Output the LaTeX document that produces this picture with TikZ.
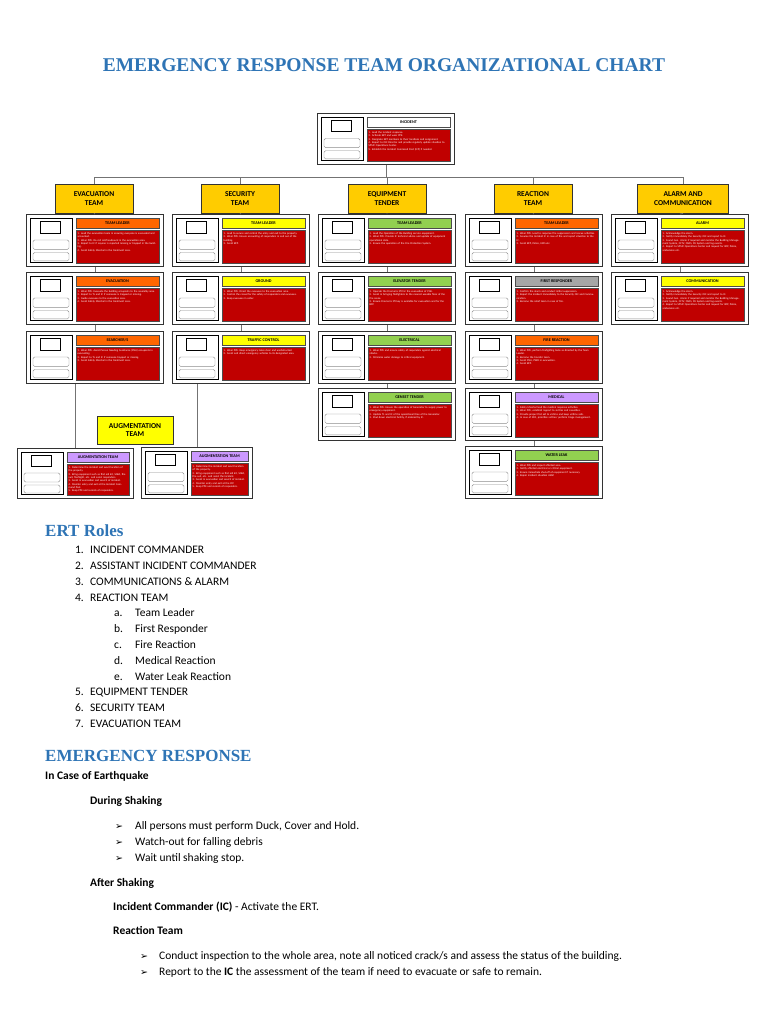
\documentclass[tikz,border=0pt]{standalone}
\usepackage{fontspec}
\setmainfont{Carlito}
\newfontfamily\titlefont{Liberation Serif}
\newfontfamily\dejavu{DejaVu Sans}
\definecolor{ttl}{HTML}{2E74B5}
\definecolor{ergred}{HTML}{C00000}
\definecolor{teamyel}{HTML}{FFCC00}
\definecolor{hyel}{HTML}{FFFF00}
\definecolor{horg}{HTML}{FF6600}
\definecolor{hgrn}{HTML}{92D050}
\definecolor{hgry}{HTML}{A6A6A6}
\definecolor{hpur}{HTML}{CC99FF}
\tikzset{
  cardbox/.style={draw=black!80, line width=0.9pt, fill=white, inner sep=0pt},
  teamhdr/.style={draw=black!80, line width=0.8pt, fill=teamyel, minimum width=78pt, minimum height=29pt, align=center, font=\fontsize{7.5}{8.5}\selectfont\bfseries, inner sep=1pt},
  conn/.style={draw=black!55, line width=0.7pt},
  body/.style={anchor=north west, text=white, inner sep=0.5pt, align=left, font=\fontsize{2.7}{3.3}\selectfont},
  hlabel/.style={font=\fontsize{4.2}{5}\selectfont\bfseries, inner sep=0pt},
  role/.style={anchor=base west, inner sep=0pt, font=\fontsize{11.5}{13}\selectfont},
  secttl/.style={anchor=base west, inner sep=0pt, text=ttl, font=\titlefont\fontsize{17}{19}\selectfont\bfseries},
}
\newcommand\card[8]{%
  \node[cardbox, minimum width=#4pt, minimum height=#5pt, anchor=north west] (#1) at (#2,#3) {};
  \begin{scope}[shift={(#1.north west)}]
    \draw[line width=0.9pt] (4,4) rectangle (46,{#5-4});
    \draw[line width=0.8pt] (14,7) rectangle (34,{#5*0.37});
    \draw[black!45, rounded corners=1.5pt] (7,{#5*0.5}) rectangle (43,{#5*0.68});
    \draw[black!45, rounded corners=1.5pt] (7,{#5*0.74}) rectangle (43,{#5*0.9});
    \draw[fill=#6, draw=black!70] (50,4) rectangle ({#4-4},14);
    \node[hlabel] at ({(#4+46)/2},9) {#7};
    \draw[fill=ergred, draw=black!70] (50,16) rectangle ({#4-4},{#5-3});
    \node[body, text width={(#4-58)*1pt}] at (51,18) {#8};
  \end{scope}}
\begin{document}
\begin{tikzpicture}[x=1pt,y=-1pt]
\useasboundingbox (0,0) rectangle (768,1024);
\node[text=ttl, font=\titlefont\fontsize{19.5}{22}\selectfont\bfseries] (title) at (384,65) {EMERGENCY RESPONSE TEAM ORGANIZATIONAL CHART};

% incident
\card{inc}{317}{113}{137}{51}{white}{INCIDENT}{1. Lead the incident response.\\2. Activate ERT and wear PPE.\\3. Designate ERT members to their locations and assignment.\\4. Report to OIC Director and provide regularly update situation to SPMC Operations Center.\\5. Establish the Incident Command Post (ICP) if needed.}

% team headers
\node[teamhdr] (hev) at (94,198.5) {EVACUATION\\TEAM};
\node[teamhdr] (hse) at (240,198.5) {SECURITY\\TEAM};
\node[teamhdr] (heq) at (387,198.5) {EQUIPMENT\\TENDER};
\node[teamhdr] (hre) at (533,198.5) {REACTION\\TEAM};
\node[teamhdr, minimum width=91pt] (hal) at (683,198.5) {ALARM AND\\COMMUNICATION};

\coordinate (busL) at (94,177);
\coordinate (busR) at (683,177);
\draw[conn] (busL) -- (busR);
\draw[conn] (inc.south) -- (inc.south |- busL);
\foreach \h in {hev,hse,heq,hre,hal} \draw[conn] (\h.north) -- (\h.north |- busL);

% evacuation column
\card{ev1}{26}{214}{137}{52}{horg}{TEAM LEADER}{1. Lead the evacuation team in ensuring everyone is evacuated and accounted.\\2. Wear PPE. Do roll call/headcount in the evacuation area.\\3. Report to IC if anyone is reported missing or trapped in the building.\\4. Assist Safety Marshal in the treatment area.}
\card{ev2}{26}{272}{137}{52}{horg}{EVACUATION}{1. Wear PPE. Evacuate the building occupants to the assembly area.\\2. Report to TL and IC if someone is trapped or missing.\\3. Guide evacuees to the evacuation area.\\4. Assist Safety Marshal in the treatment area.}
\card{ev3}{26}{331}{137}{52}{horg}{SEARCHER/S}{1. Wear PPE. Assist Person Needing Assistance (PNA) occupants in evacuating.\\2. Report to TL and IC if someone trapped or missing.\\3. Assist Safety Marshal in the treatment area.}
% security column
\card{se1}{172}{214}{137}{52}{hyel}{TEAM LEADER}{1. Lead to secure and control the entry and exit to the property.\\2. Wear PPE. Ensure accounting of responders in and out of the building.\\3. Assist BFP.}
\card{se2}{172}{272}{137}{52}{hyel}{GROUND}{1. Wear PPE. Direct the evacuees to the evacuation area.\\2. Control the crowd for the safety of responders and evacuees.\\3. Keep evacuees in order.}
\card{se3}{172}{331}{137}{52}{hyel}{TRAFFIC CONTROL}{1. Wear PPE. Keep emergency lanes clear and unobstructed.\\2. Assist and direct emergency vehicles to its designated area.}
% equipment column
\card{eq1}{318}{214}{137}{52}{hgrn}{TEAM LEADER}{1. Lead the Operation of the Building service equipment.\\2. Wear PPE. Provide IC technical advice and update of equipment operational data.\\3. Ensure the operation of the Fire Protection System.}
\card{eq2}{318}{272}{137}{52}{hgrn}{ELEVATOR TENDER}{1. Operate the Fireman's lift for the evacuation of PNA.\\2. Assist in bringing firefighters to the nearest useable floor of the fire scene.\\3. Ensure Fireman's lift key is available for evacuation and for the BFP.}
\card{eq3}{318}{331}{137}{52}{hgrn}{ELECTRICAL}{1. Wear PPE and ensure safety of responders against electrical shocks.\\2. Minimize water damage to critical equipment.}
\card{eq4}{318}{388}{137}{52}{hgrn}{GENSET TENDER}{1. Wear PPE. Ensure the operation of Generator to supply power to emergency equipment.\\2. Update TL and IC of the operational time of the Generator.\\3. Shut down electrical facility, if ordered by IC.}
% reaction column
\card{re1}{465}{214}{137}{52}{horg}{TEAM LEADER}{1. Wear PPE. Lead to response fire suppression and rescue activities.\\2. Assume the Incident IC in case of fire and report situation to the IC.\\3. Assist BFP, Police, EMS etc.}
\card{re2}{465}{272}{137}{52}{hgry}{FIRST RESPONDER}{1. Confirm the alarm and conduct initial suppression.\\2. Report the incident immediately to the Security OIC and Communication.\\3. Become the relief team in case of fire.}
\card{re3}{465}{331}{137}{52}{horg}{FIRE REACTION}{1. Wear PPE, perform firefighting tasks as directed by the Team Leader.\\2. Become the transfer team.\\3. Assist PNA, PWD in evacuation.\\4. Assist BFP.}
\card{re4}{465}{388}{137}{52}{hpur}{MEDICAL}{1. Safety Marshal lead the medical response activities.\\2. Wear PPE, establish rapport to victims and casualties.\\3. Provide proper first aid to victims and keep victims safe.\\4. In case of MCI, prioritize victims/ perform triage management.}
\card{re5}{465}{446}{137}{52}{hgrn}{WATER LEAK}{1. Wear PPE and inspect affected area.\\2. Notify affected electrical or critical equipment.\\3. Ensure immediate shut-off of equipment if necessary.\\4. Repair incident situation ASAP.}
% alarm column
\card{al1}{611}{214}{137}{52}{hyel}{ALARM}{1. Acknowledge the alarm.\\2. Notify immediately the Security OIC and report to IC.\\3. Sound Gen. Alarm if required and monitor the Building Management System, CCTV, FDAS, PA System and log events.\\4. Report to SPMC Operations Center and request for BFP, Police, ambulance etc.}
\card{al2}{611}{272}{137}{52}{hyel}{COMMUNICATION}{1. Acknowledge the alarm.\\2. Notify immediately the Security OIC and report to IC.\\3. Sound Gen. Alarm if required and monitor the Building Management System, CCTV, FDAS, PA System and log events.\\4. Report to SPMC Operations Center and request for BFP, Police, ambulance etc.}

% augmentation
\node[teamhdr, fill=hyel, minimum width=76pt, minimum height=28pt] (hau) at (135,430) {AUGMENTATION\\TEAM};
\card{au1}{17}{448}{116}{50}{hpur}{AUGMENTATION TEAM}{1. Determine the incident and exact location of the property.\\2. Bring equipment such as first aid kit, SCBA, fire suit, flashlight, etc. and assist responders.\\3. Assist in evacuation and search of incident.\\4. Monitor entry and exit at the Incident Command Post.\\5. Keep PPE and records of responders.}
\card{au2}{141}{447}{111}{51}{hpur}{AUGMENTATION TEAM}{1. Determine the incident and exact location of the property.\\2. Bring equipment such as first aid kit, SCBA, fire suit, etc. and assist the incident.\\3. Assist in evacuation and search of incident.\\4. Monitor entry and exit at the ICP.\\5. Keep PPE and records of responders.}

% vertical connectors
\foreach \a/\b in {hev/ev1,ev1/ev2,ev2/ev3,hse/se1,se1/se2,se2/se3,heq/eq1,eq1/eq2,eq2/eq3,eq3/eq4,hre/re1,re1/re2,re2/re3,re3/re4,re4/re5,hal/al1,al1/al2}
  \draw[conn] (\a.south) -- (\b.north);
\draw[conn] (au1.north) -- (au1.north |- ev3.south);
\draw[conn] (au2.north) -- (au2.north |- se3.south);

% ERT roles
\node[secttl] (rt) at (45,536) {ERT Roles};
\foreach \y/\n/\t in {549/1./INCIDENT COMMANDER,565/2./ASSISTANT INCIDENT COMMANDER,581/3./COMMUNICATIONS \& ALARM,597/4./REACTION TEAM,691/5./EQUIPMENT TENDER,707/6./SECURITY TEAM,723/7./EVACUATION TEAM}{
  \node[role, anchor=base east] (n\y) at (84,\y+4) {\n};
  \node[role] (r\y) at (90,\y+4) {\t};}
\foreach \y/\n/\t in {612/a./Team Leader,628/b./First Responder,644/c./Fire Reaction,660/d./Medical Reaction,676/e./Water Leak Reaction}{
  \node[role] (m\y) at (114,\y+4) {\n};
  \node[role] (s\y) at (135,\y+4) {\t};}

\node[secttl] (er) at (45,761) {EMERGENCY RESPONSE};
\node[role, font=\fontsize{11.5}{13}\selectfont\bfseries] (eq) at (45,779) {In Case of Earthquake};
\node[role, font=\fontsize{11.5}{13}\selectfont\bfseries] (ds) at (90,804) {During Shaking};
\foreach \y/\t in {825/All persons must perform Duck{,} Cover and Hold.,841/Watch-out for falling debris/ materials.,857/Wait until shaking stop.}{
  \node[role, font=\dejavu\fontsize{9.5}{11}\selectfont] (b\y) at (115,\y+4) {➢};
  \node[role] (t\y) at (135,\y+4) {\t};}
\node[role, font=\fontsize{11.5}{13}\selectfont\bfseries] (as) at (90,886) {After Shaking};
\node[role] (ic) at (113,910) {\textbf{Incident Commander (IC)} - Activate the ERT.};
\node[role, font=\fontsize{11.5}{13}\selectfont\bfseries] (rtm) at (113,934) {Reaction Team};
\node[role, font=\dejavu\fontsize{9.5}{11}\selectfont] (c1) at (140,959) {➢};
\node[role] (u1) at (159,959) {Conduct inspection to the whole area, note all noticed crack/s and assess the status of the building.};
\node[role, font=\dejavu\fontsize{9.5}{11}\selectfont] (c2) at (140,975) {➢};
\node[role] (u2) at (159,975) {Report to the \textbf{IC} the assessment of the team if need to evacuate or safe to remain.};
\end{tikzpicture}
\end{document}
